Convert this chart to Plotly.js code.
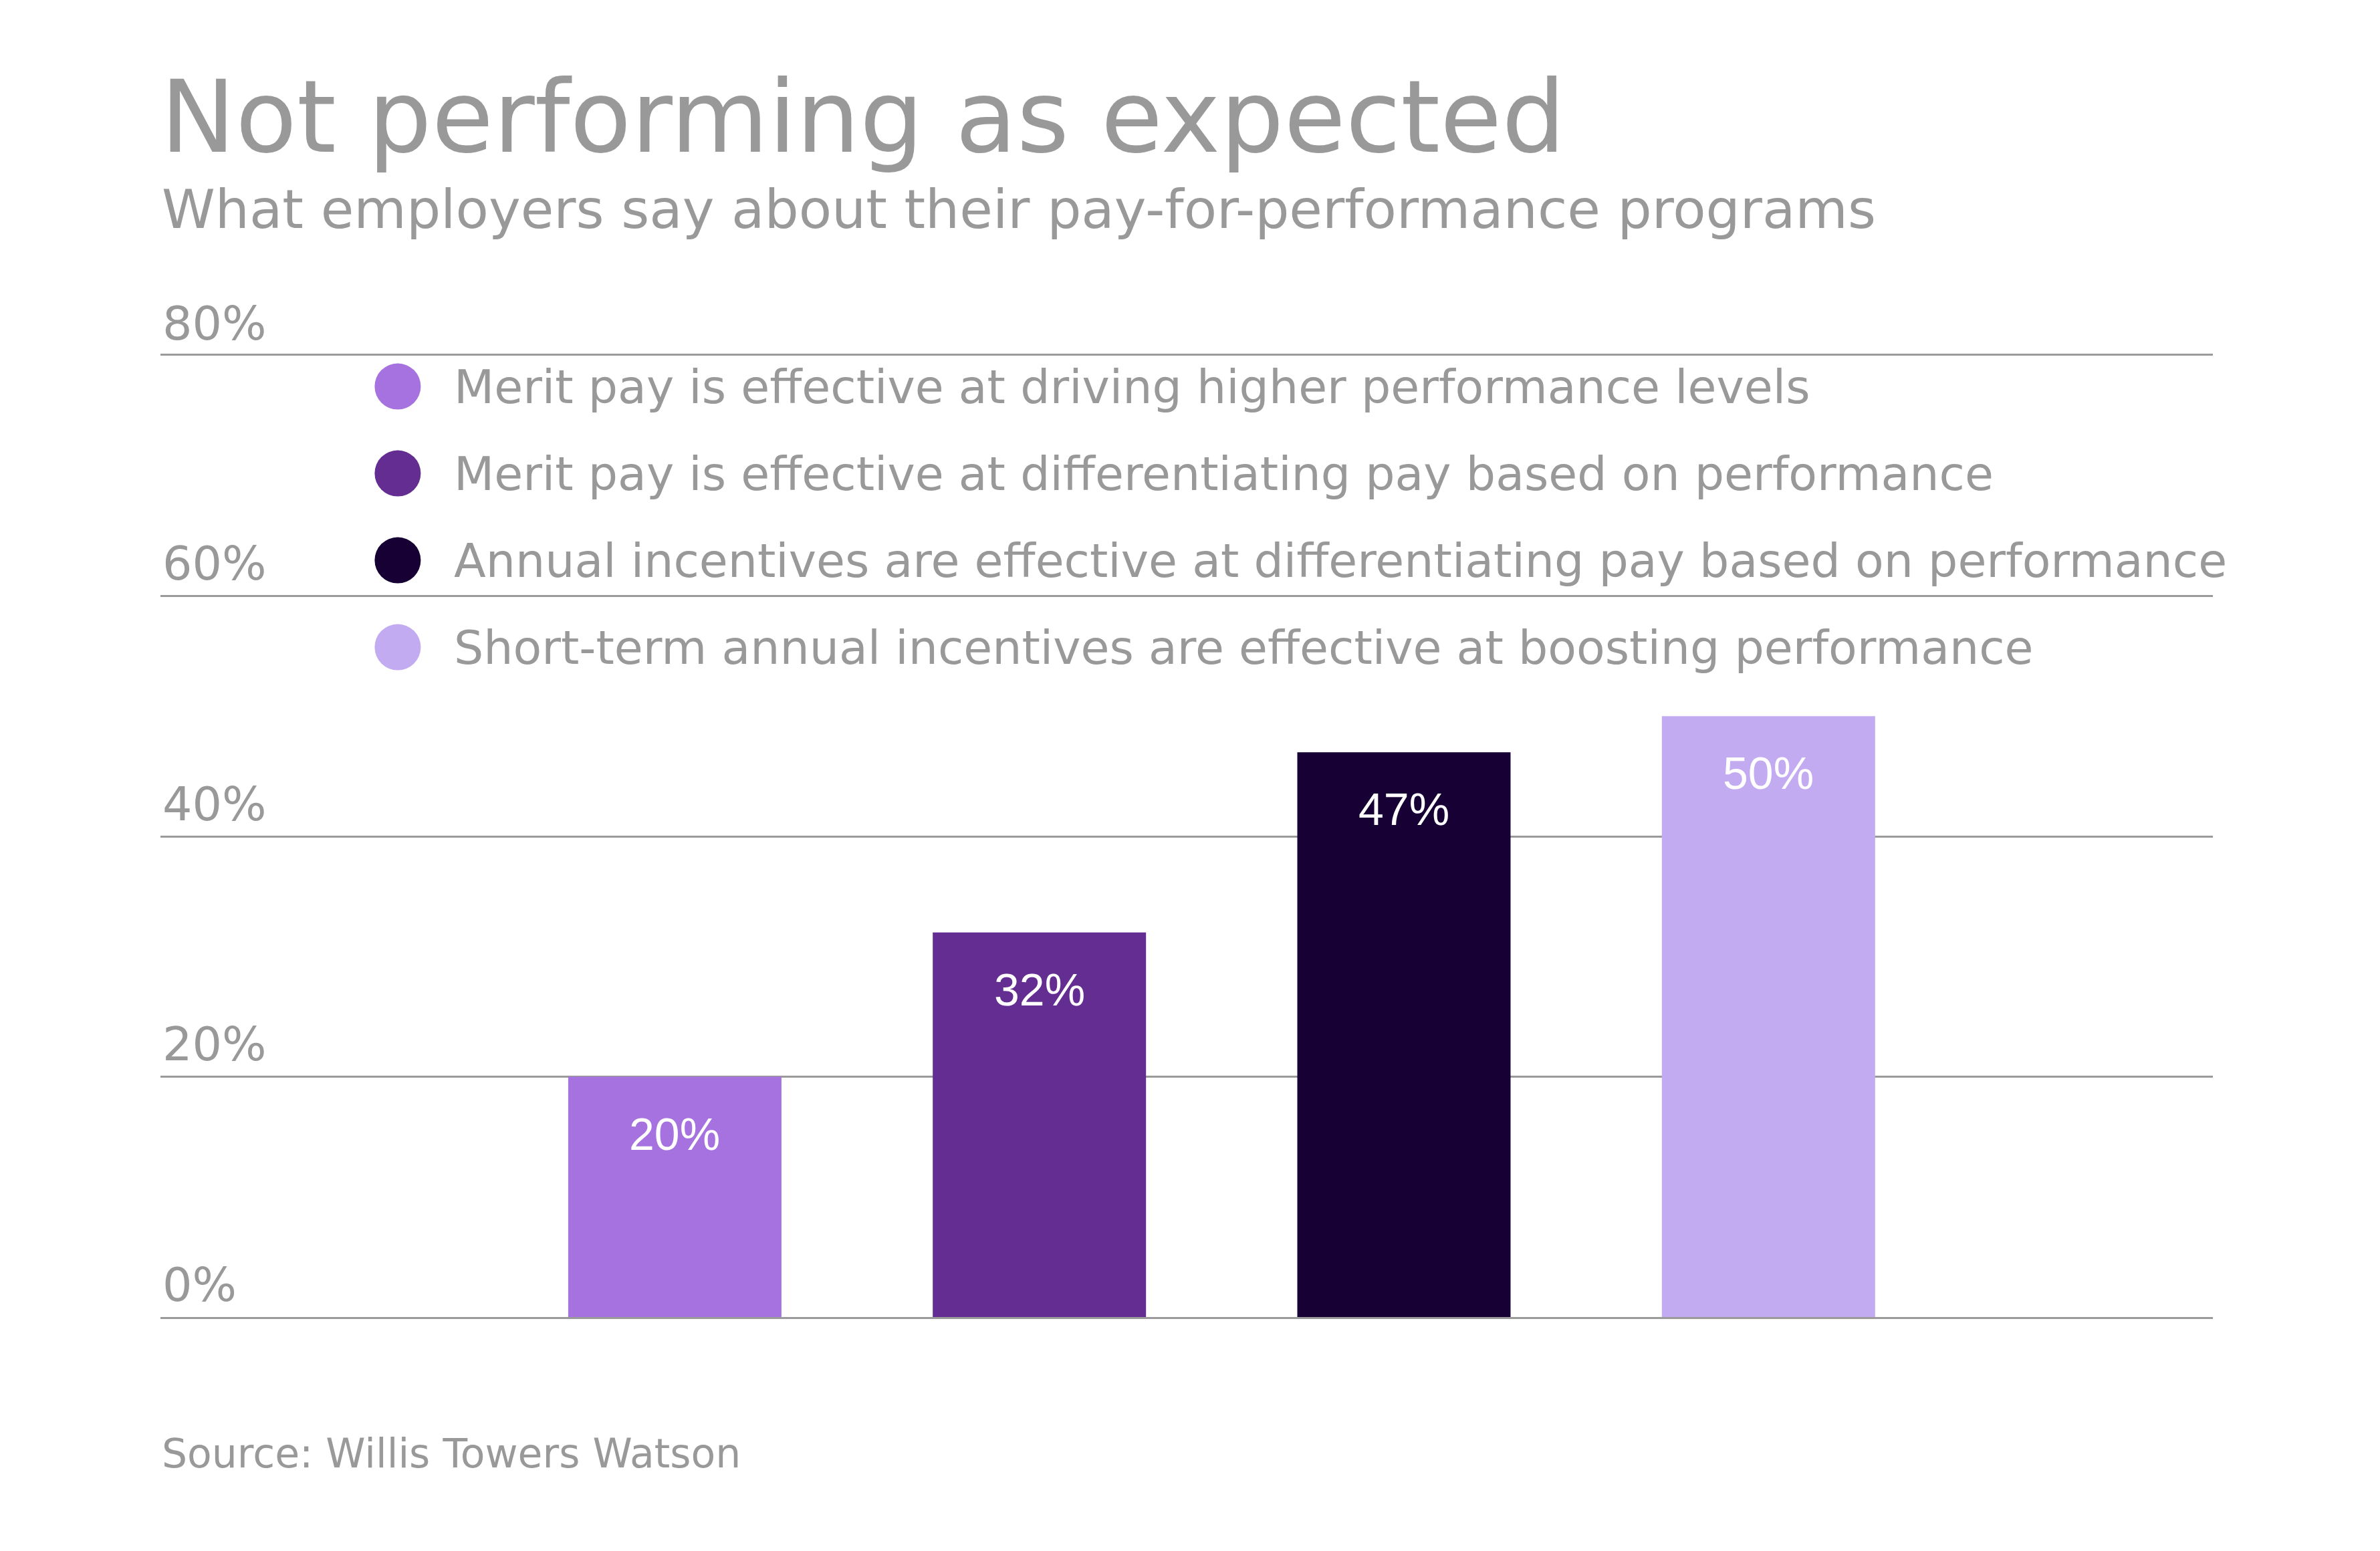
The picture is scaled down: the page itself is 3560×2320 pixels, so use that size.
<!DOCTYPE html>
<html>
<head>
<meta charset="utf-8">
<script src="https://cdn.plot.ly/plotly-3.0.1.min.js"></script>
<style>
  html, body { margin: 0; padding: 0; background: #fff; }
  #chart { width: 3560px; height: 2320px; }
</style>
</head>
<body>
<div id="chart"></div>
<script>
const categories = [
  'Merit pay is effective at driving higher performance levels',
  'Merit pay is effective at differentiating pay based on performance',
  'Annual incentives are effective at differentiating pay based on performance',
  'Short-term annual incentives are effective at boosting performance',
];
const values = [20, 32, 47, 50];
const barColors = ['#a572e0', '#642d91', '#170034', '#c3abf1'];
const tickValues = [0, 20, 40, 60, 80];
const tickLabels = ['0%', '20%', '40%', '60%', '80%'];

const grey = '#999999';
const lineGrey = '#9a9a9a';
const font = 'DejaVu Sans, Verdana, sans-serif';

const bars = {
  type: 'bar',
  x: categories,
  y: values,
  width: 0.585,
  marker: { color: barColors },
  showlegend: false,
  hoverinfo: 'skip',
};

// value labels inside the top of each bar
const valueLabels = categories.map((c, i) => ({
  x: c,
  y: values[i],
  xref: 'x',
  yref: 'y',
  text: values[i] + '%',
  showarrow: false,
  yanchor: 'top',
  yshift: -45,
  font: { family: 'Liberation Sans, Arial, sans-serif', size: 68, color: '#ffffff' },
}));

// legend drawn as dots + text rows
const legendTop = 0.968;
const legendStep = 130 / 1438;
const legendText = categories.map((c, i) => ({
  x: 0.1423,
  y: legendTop - i * legendStep,
  xref: 'paper',
  yref: 'paper',
  text: c,
  showarrow: false,
  xanchor: 'left',
  yanchor: 'middle',
  font: { family: font, size: 69.8, color: grey },
}));
const legendDots = categories.map((c, i) => ({
  type: 'circle',
  xref: 'paper',
  yref: 'paper',
  xsizemode: 'pixel',
  ysizemode: 'pixel',
  xanchor: 0.1156,
  yanchor: legendTop - i * legendStep,
  x0: -34.5, x1: 34.5,
  y0: -34.5, y1: 34.5,
  fillcolor: barColors[i],
  line: { width: 0 },
}));

const layout = {
  width: 3560,
  height: 2320,
  margin: { l: 240, r: 250, t: 532, b: 350 },
  paper_bgcolor: '#ffffff',
  plot_bgcolor: '#ffffff',
  font: { family: font, color: grey },
  title: {
    text: 'Not performing as expected',
    font: { family: font, size: 150, color: grey },
    xref: 'paper',
    x: 0,
    xanchor: 'left',
    yref: 'container',
    y: 1 - 174 / 2320,
    yanchor: 'middle',
  },
  xaxis: {
    type: 'category',
    range: [-1.411, 4.219],
    showticklabels: false,
    showgrid: false,
    zeroline: false,
    ticks: '',
    showline: true,
    mirror: true,
    linecolor: lineGrey,
    linewidth: 3,
    fixedrange: true,
  },
  yaxis: {
    range: [0, 80],
    tickvals: tickValues,
    ticktext: tickLabels,
    ticklabelposition: 'inside top',
    ticklabeloverflow: 'allow',
    tickfont: { family: font, size: 70, color: grey },
    showgrid: true,
    gridcolor: lineGrey,
    gridwidth: 3,
    zeroline: false,
    ticks: '',
    fixedrange: true,
  },
  annotations: [
    {
      x: 0, y: 1.1526, xref: 'paper', yref: 'paper',
      text: 'What employers say about their pay-for-performance programs',
      showarrow: false, xanchor: 'left', yanchor: 'middle',
      font: { family: font, size: 80.7, color: grey },
    },
    {
      x: 0, y: -0.1419, xref: 'paper', yref: 'paper',
      text: 'Source: Willis Towers Watson',
      showarrow: false, xanchor: 'left', yanchor: 'middle',
      font: { family: font, size: 60, color: grey },
    },
    ...legendText,
    ...valueLabels,
  ],
  shapes: legendDots,
};

Plotly.newPlot('chart', [bars], layout, { displayModeBar: false, staticPlot: true });
</script>
</body>
</html>
